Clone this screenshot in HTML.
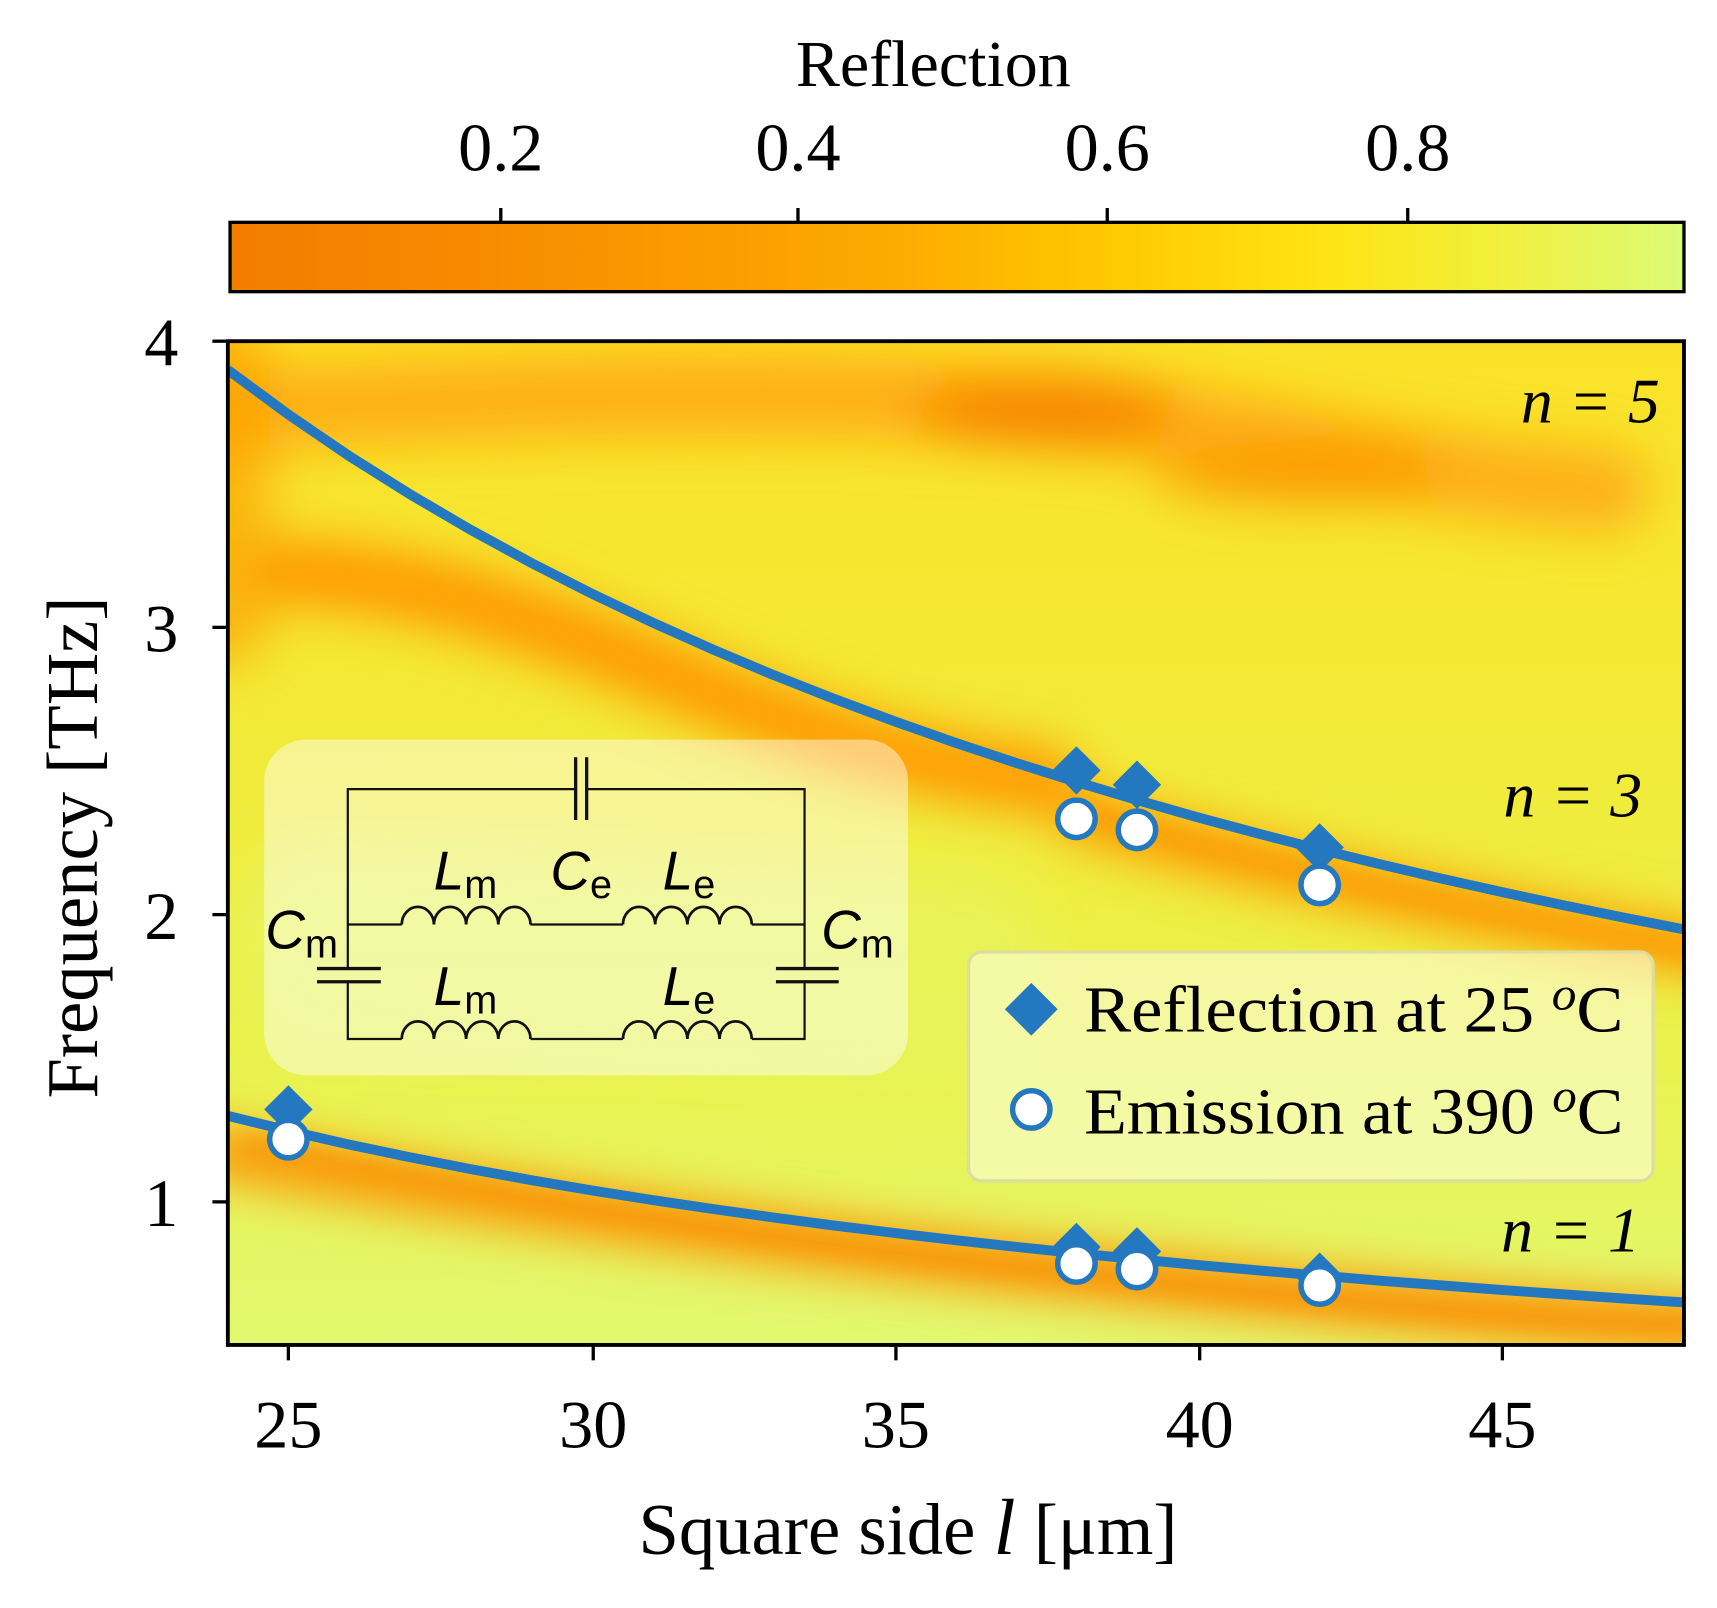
<!DOCTYPE html>
<html><head><meta charset="utf-8"><style>html,body{margin:0;padding:0;background:#fff}svg{display:block}</style></head><body>
<svg width="1717" height="1608" viewBox="0 0 1560 1461" preserveAspectRatio="none" xmlns="http://www.w3.org/2000/svg" font-family="Liberation Serif, serif">
<defs>
<linearGradient id="cb" x1="0" x2="1" y1="0" y2="0">
<stop offset="0" stop-color="#f47c00"/><stop offset="0.2" stop-color="#f88e00"/><stop offset="0.45" stop-color="#fcaa00"/><stop offset="0.6" stop-color="#ffc800"/><stop offset="0.75" stop-color="#ffe312"/><stop offset="0.88" stop-color="#f0f040"/><stop offset="1" stop-color="#dcfb78"/>
</linearGradient>
<linearGradient id="bg" x1="0" x2="0" y1="0" y2="1">
<stop offset="0" stop-color="#fbe228"/><stop offset="0.4" stop-color="#f2ea38"/><stop offset="0.7" stop-color="#eaf24c"/><stop offset="1" stop-color="#e2f870"/>
</linearGradient>
<filter id="bl" filterUnits="userSpaceOnUse" x="0" y="200" width="1700" height="1200"><feGaussianBlur stdDeviation="22"/></filter>
<filter id="bl2" filterUnits="userSpaceOnUse" x="0" y="200" width="1700" height="1200"><feGaussianBlur stdDeviation="10"/></filter>
<clipPath id="pc"><rect x="207" y="310" width="1323" height="912"/></clipPath>
</defs>
<!-- colorbar -->
<text x="848" y="78" font-size="60" text-anchor="middle">Reflection</text>
<rect x="209" y="202" width="1321" height="63" fill="url(#cb)" stroke="#000" stroke-width="3"/>
<g stroke="#000" stroke-width="3"><line x1="455" y1="202" x2="455" y2="189"/><line x1="725" y1="202" x2="725" y2="189"/><line x1="1006" y1="202" x2="1006" y2="189"/><line x1="1279" y1="202" x2="1279" y2="189"/></g>
<g font-size="62" text-anchor="middle"><text x="455" y="155">0.2</text><text x="725" y="155">0.4</text><text x="1006" y="155">0.6</text><text x="1279" y="155">0.8</text></g>
<!-- heatmap -->
<g clip-path="url(#pc)">
<rect x="207" y="310" width="1323" height="912" fill="url(#bg)"/>
<g filter="url(#bl)" fill="none" stroke-linecap="round">
<path d="M180,375 C450,360 750,350 960,372 S1250,430 1460,445" stroke="#ffa412" stroke-width="75" opacity="0.8"/>
<ellipse cx="950" cy="375" rx="120" ry="30" fill="#f88600" stroke="none"/>
<ellipse cx="1180" cy="430" rx="130" ry="28" fill="#fb9300" stroke="none" opacity="0.8"/>
<path d="M200,330 L200,560" stroke="#fca000" stroke-width="90" opacity="0.7"/>
<path d="M260,520 C380,525 480,560 600,610 S800,690 950,710" stroke="#ff9800" stroke-width="60"/>
<path d="M980,740 C1100,775 1300,825 1560,865" stroke="#ff9a00" stroke-width="45"/>
<path d="M190,1045 C400,1085 700,1128 1000,1158 S1400,1198 1560,1205" stroke="#ff9000" stroke-width="45"/>
<path d="M300,850 C500,860 700,880 860,880" stroke="#e6f66a" stroke-width="180" opacity="0.5"/>
</g>
<g filter="url(#bl2)" fill="none" stroke-linecap="round">
<path d="M230,1040 C450,1088 700,1128 1000,1160 S1400,1198 1560,1206" stroke="#f88a00" stroke-width="16" opacity="0.7"/>
<path d="M990,740 C1100,772 1300,824 1560,866" stroke="#fa9000" stroke-width="16" opacity="0.6"/>
</g>
</g>
<!-- inset -->
<rect x="240" y="672" width="585" height="305" rx="38" fill="#fff" fill-opacity="0.45"/>
<g fill="none" stroke="#111" stroke-width="2">
<path d="M523,717 H316 V880 M316,892 V944 H365 M482,944 H566 M683,944 H731 V892 M731,880 V717 H533"/>
<path d="M316,840 H365 M482,840 H566 M683,840 H731"/>
<path d="M523,688 V745 M533,688 V745" stroke-width="3"/>
<path d="M288,880 H346 M288,892 H346 M705,880 H762 M705,892 H762" stroke-width="3"/>
<path d="M365,840 a14.6,16 0 0 1 29.25,0 a14.6,16 0 0 1 29.25,0 a14.6,16 0 0 1 29.25,0 a14.6,16 0 0 1 29.25,0 M566,840 a14.6,16 0 0 1 29.25,0 a14.6,16 0 0 1 29.25,0 a14.6,16 0 0 1 29.25,0 a14.6,16 0 0 1 29.25,0 M365,944 a14.6,16 0 0 1 29.25,0 a14.6,16 0 0 1 29.25,0 a14.6,16 0 0 1 29.25,0 a14.6,16 0 0 1 29.25,0 M566,944 a14.6,16 0 0 1 29.25,0 a14.6,16 0 0 1 29.25,0 a14.6,16 0 0 1 29.25,0 a14.6,16 0 0 1 29.25,0" stroke-width="2.5"/>
</g>
<g font-family="Liberation Sans, sans-serif" font-size="50" fill="#000">
<text x="394" y="808"><tspan font-style="italic">L</tspan><tspan font-size="36" dy="8">m</tspan></text>
<text x="500" y="808"><tspan font-style="italic">C</tspan><tspan font-size="36" dy="8">e</tspan></text>
<text x="602" y="808"><tspan font-style="italic">L</tspan><tspan font-size="36" dy="8">e</tspan></text>
<text x="241" y="862"><tspan font-style="italic">C</tspan><tspan font-size="36" dy="8">m</tspan></text>
<text x="746" y="862"><tspan font-style="italic">C</tspan><tspan font-size="36" dy="8">m</tspan></text>
<text x="394" y="913"><tspan font-style="italic">L</tspan><tspan font-size="36" dy="8">m</tspan></text>
<text x="602" y="913"><tspan font-style="italic">L</tspan><tspan font-size="36" dy="8">e</tspan></text>
</g>
<!-- curves -->
<g clip-path="url(#pc)" fill="none" stroke="#2378c0" stroke-width="9" stroke-linejoin="round">
<polyline points="206.9,336 262,376.6 317.1,414.2 372.2,448.9 427.3,481.2 482.4,511.3 537.5,539.3 592.6,565.5 647.7,590.1 702.8,613.3 757.9,635 813,655.5 868.1,674.9 923.2,693.2 978.3,710.5 1033.4,727 1088.5,742.7 1143.6,757.5 1198.7,771.7 1253.8,785.2 1308.9,798.1 1364,810.4 1419.1,822.2 1474.2,833.5 1529.3,844.3"/>
<polyline points="206.9,1013.8 262,1027.3 317.1,1039.9 372.2,1051.4 427.3,1062.2 482.4,1072.2 537.5,1081.6 592.6,1090.3 647.7,1098.5 702.8,1106.2 757.9,1113.5 813,1120.3 868.1,1126.8 923.2,1132.9 978.3,1138.7 1033.4,1144.1 1088.5,1149.4 1143.6,1154.3 1198.7,1159 1253.8,1163.6 1308.9,1167.8 1364,1172 1419.1,1175.9 1474.2,1179.7 1529.3,1183.3"/>
</g>
<!-- markers -->
<g fill="#2378c0">
<path d="M262,986 l22,22 l-22,22 l-22,-22z"/><path d="M978,1111 l22,22 l-22,22 l-22,-22z"/><path d="M1033,1115 l22,22 l-22,22 l-22,-22z"/><path d="M1199,1138 l22,22 l-22,22 l-22,-22z"/>
<path d="M978,678 l22,22 l-22,22 l-22,-22z"/><path d="M1033,691 l22,22 l-22,22 l-22,-22z"/><path d="M1199,748 l22,22 l-22,22 l-22,-22z"/>
</g>
<g fill="#fff" stroke="#2378c0" stroke-width="5">
<circle cx="262" cy="1035" r="17"/><circle cx="978" cy="1148" r="17"/><circle cx="1033" cy="1153" r="17"/><circle cx="1199" cy="1168" r="17"/>
<circle cx="978" cy="744" r="17"/><circle cx="1033" cy="754" r="17"/><circle cx="1199" cy="804" r="17"/>
</g>
<!-- n labels -->
<g font-size="58" font-style="italic" text-anchor="end">
<text x="1508" y="384">n = 5</text><text x="1492" y="742">n = 3</text><text x="1490" y="1137">n = 1</text>
</g>
<!-- legend -->
<rect x="880" y="865" width="622" height="208" rx="12" fill="#fbfcd0" fill-opacity="0.65" stroke="#dedda0" stroke-width="3"/>
<path d="M937,893 l24,24 l-24,24 l-24,-24z" fill="#2378c0"/>
<circle cx="937" cy="1008" r="17" fill="#fff" stroke="#2378c0" stroke-width="5"/>
<g font-size="60"><text x="985" y="937" textLength="490" lengthAdjust="spacingAndGlyphs">Reflection at 25 <tspan font-style="italic" font-size="42" dy="-20">o</tspan><tspan dy="20">C</tspan></text>
<text x="985" y="1030" textLength="490" lengthAdjust="spacingAndGlyphs">Emission at 390 <tspan font-style="italic" font-size="42" dy="-20">o</tspan><tspan dy="20">C</tspan></text></g>
<!-- frame & axes -->
<rect x="207" y="310" width="1323" height="912" fill="none" stroke="#000" stroke-width="3.5"/>
<g stroke="#000" stroke-width="3"><line x1="207" y1="310" x2="193" y2="310"/><line x1="207" y1="570" x2="193" y2="570"/><line x1="207" y1="831" x2="193" y2="831"/><line x1="207" y1="1092" x2="193" y2="1092"/>
<line x1="262" y1="1222" x2="262" y2="1236"/><line x1="539" y1="1222" x2="539" y2="1236"/><line x1="814" y1="1222" x2="814" y2="1236"/><line x1="1090" y1="1222" x2="1090" y2="1236"/><line x1="1365" y1="1222" x2="1365" y2="1236"/></g>
<g font-size="62" text-anchor="end"><text x="162" y="332">4</text><text x="162" y="592">3</text><text x="162" y="853">2</text><text x="162" y="1114">1</text></g>
<g font-size="62" text-anchor="middle"><text x="262" y="1315">25</text><text x="539" y="1315">30</text><text x="814" y="1315">35</text><text x="1090" y="1315">40</text><text x="1365" y="1315">45</text></g>
<text x="825" y="1412" font-size="66" text-anchor="middle">Square side <tspan font-style="italic" font-size="72">l</tspan> [μm]</text>
<text transform="translate(88,770) rotate(-90)" font-size="66" text-anchor="middle">Frequency [THz]</text>
</svg>
</body></html>
